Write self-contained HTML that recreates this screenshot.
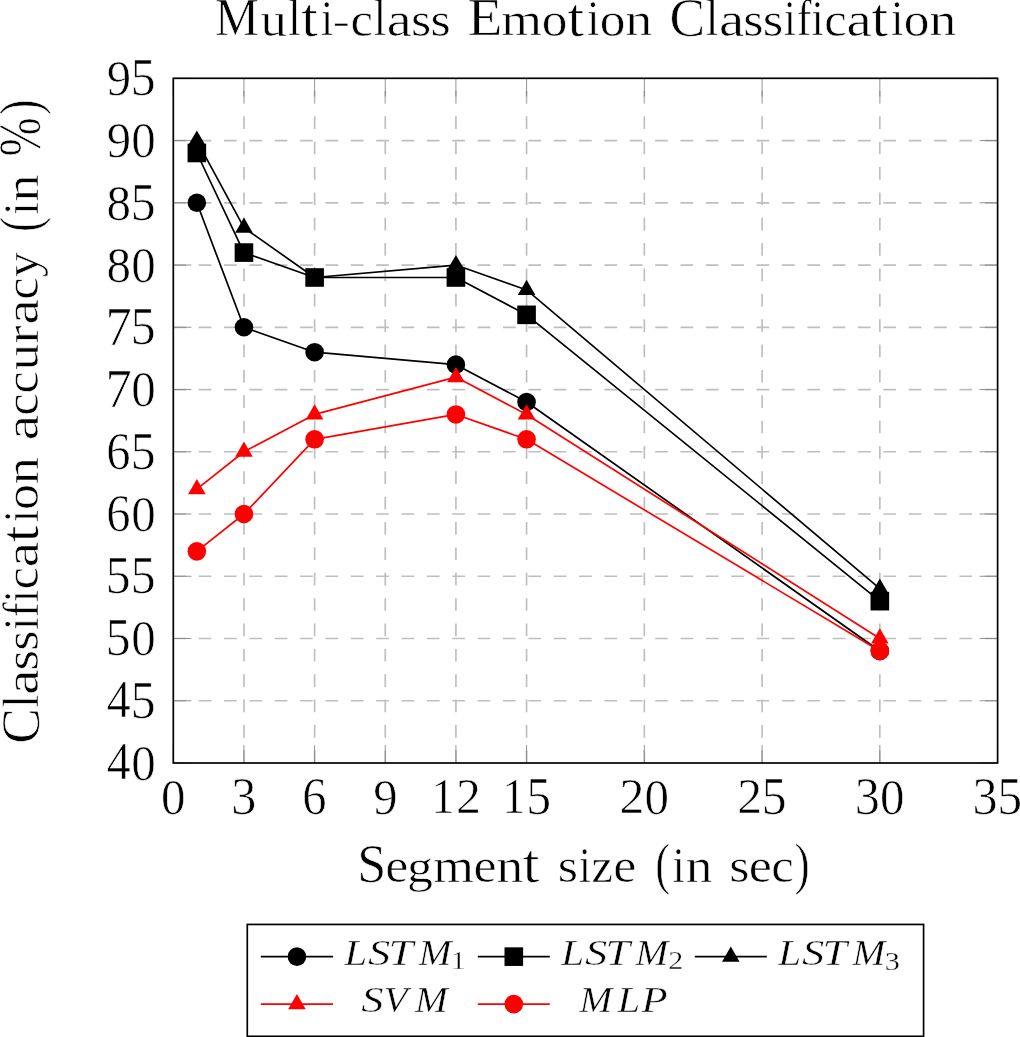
<!DOCTYPE html>
<html><head><meta charset="utf-8"><title>Multi-class Emotion Classification</title><style>
html,body{margin:0;padding:0;background:#fff;}
body{width:1020px;height:1037px;overflow:hidden;}
svg{display:block;}
text{font-family:"Liberation Serif",serif;font-size:100px;fill:#000;stroke:#fff;stroke-width:1.2px;}
</style></head><body>
<svg width="1020" height="1037" viewBox="0 0 1020 1037">
<rect width="1020" height="1037" fill="#fff"/>
<path d="M243.95 763V78.3M314.61 763V78.3M385.26 763V78.3M455.92 763V78.3M526.57 763V78.3M644.33 763V78.3M762.09 763V78.3M879.84 763V78.3M173.3 700.75H997.6M173.3 638.51H997.6M173.3 576.26H997.6M173.3 514.02H997.6M173.3 451.77H997.6M173.3 389.53H997.6M173.3 327.28H997.6M173.3 265.04H997.6M173.3 202.79H997.6M173.3 140.55H997.6" stroke="#bfbfbf" stroke-width="1.691" stroke-dasharray="12.68" fill="none"/>
<path d="M173.3 763V744.94M173.3 78.3V96.36M243.95 763V744.94M243.95 78.3V96.36M314.61 763V744.94M314.61 78.3V96.36M385.26 763V744.94M385.26 78.3V96.36M455.92 763V744.94M455.92 78.3V96.36M526.57 763V744.94M526.57 78.3V96.36M644.33 763V744.94M644.33 78.3V96.36M762.09 763V744.94M762.09 78.3V96.36M879.84 763V744.94M879.84 78.3V96.36M997.6 763V744.94M997.6 78.3V96.36M173.3 763H191.36M997.6 763H979.54M173.3 700.75H191.36M997.6 700.75H979.54M173.3 638.51H191.36M997.6 638.51H979.54M173.3 576.26H191.36M997.6 576.26H979.54M173.3 514.02H191.36M997.6 514.02H979.54M173.3 451.77H191.36M997.6 451.77H979.54M173.3 389.53H191.36M997.6 389.53H979.54M173.3 327.28H191.36M997.6 327.28H979.54M173.3 265.04H191.36M997.6 265.04H979.54M173.3 202.79H191.36M997.6 202.79H979.54M173.3 140.55H191.36M997.6 140.55H979.54M173.3 78.3H191.36M997.6 78.3H979.54" stroke="#808080" stroke-width="0.845" fill="none"/>
<rect x="173.3" y="78.3" width="824.3" height="684.7" fill="none" stroke="#000" stroke-width="1.691"/>
<path d="M196.85 202.79L243.95 327.28L314.61 352.18L455.92 364.63L526.57 401.98L879.84 650.96" fill="none" stroke="#000" stroke-width="1.691" stroke-linejoin="round"/><circle cx="196.85" cy="202.79" r="9.3" fill="#000"/><circle cx="243.95" cy="327.28" r="9.3" fill="#000"/><circle cx="314.61" cy="352.18" r="9.3" fill="#000"/><circle cx="455.92" cy="364.63" r="9.3" fill="#000"/><circle cx="526.57" cy="401.98" r="9.3" fill="#000"/><circle cx="879.84" cy="650.96" r="9.3" fill="#000"/>
<path d="M196.85 152.99L243.95 252.59L314.61 277.49L455.92 277.49L526.57 314.83L879.84 601.16" fill="none" stroke="#000" stroke-width="1.691" stroke-linejoin="round"/><rect x="187.55" y="143.69" width="18.6" height="18.6" fill="#000"/><rect x="234.65" y="243.29" width="18.6" height="18.6" fill="#000"/><rect x="305.31" y="268.19" width="18.6" height="18.6" fill="#000"/><rect x="446.62" y="268.19" width="18.6" height="18.6" fill="#000"/><rect x="517.27" y="305.53" width="18.6" height="18.6" fill="#000"/><rect x="870.54" y="591.86" width="18.6" height="18.6" fill="#000"/>
<path d="M196.85 140.55L243.95 227.69L314.61 277.49L455.92 265.04L526.57 289.93L879.84 588.71" fill="none" stroke="#000" stroke-width="1.691" stroke-linejoin="round"/><path d="M196.85 130.4L205.64 145.62H188.06Z" fill="#000"/><path d="M243.95 217.54L252.74 232.76H235.16Z" fill="#000"/><path d="M314.61 267.34L323.4 282.56H305.82Z" fill="#000"/><path d="M455.92 254.89L464.71 270.11H447.13Z" fill="#000"/><path d="M526.57 279.78L535.36 295H517.78Z" fill="#000"/><path d="M879.84 578.56L888.63 593.78H871.05Z" fill="#000"/>
<path d="M196.85 489.12L243.95 451.77L314.61 414.43L455.92 377.08L526.57 414.43L879.84 638.51" fill="none" stroke="#f00" stroke-width="1.691" stroke-linejoin="round"/><path d="M196.85 478.97L205.64 494.19H188.06Z" fill="#f00"/><path d="M243.95 441.62L252.74 456.84H235.16Z" fill="#f00"/><path d="M314.61 404.28L323.4 419.5H305.82Z" fill="#f00"/><path d="M455.92 366.93L464.71 382.15H447.13Z" fill="#f00"/><path d="M526.57 404.28L535.36 419.5H517.78Z" fill="#f00"/><path d="M879.84 628.36L888.63 643.58H871.05Z" fill="#f00"/>
<path d="M196.85 551.37L243.95 514.02L314.61 439.32L455.92 414.43L526.57 439.32L879.84 650.96" fill="none" stroke="#f00" stroke-width="1.691" stroke-linejoin="round"/><circle cx="196.85" cy="551.37" r="9.3" fill="#f00"/><circle cx="243.95" cy="514.02" r="9.3" fill="#f00"/><circle cx="314.61" cy="439.32" r="9.3" fill="#f00"/><circle cx="455.92" cy="414.43" r="9.3" fill="#f00"/><circle cx="526.57" cy="439.32" r="9.3" fill="#f00"/><circle cx="879.84" cy="650.96" r="9.3" fill="#f00"/>
<rect x="247.29" y="924.45" width="676.3" height="111.85" fill="#fff" stroke="#000" stroke-width="1.691"/>
<path d="M260.81 956.64H333.06" stroke="#000" stroke-width="1.691"/><circle cx="296.94" cy="956.64" r="9.3" fill="#000"/>
<path d="M477.81 956.64H549.81" stroke="#000" stroke-width="1.691"/><rect x="504.51" y="947.34" width="18.6" height="18.6" fill="#000"/>
<path d="M694.81 956.64H766.81" stroke="#000" stroke-width="1.691"/><path d="M730.81 946.49L739.6 961.71H722.02Z" fill="#000"/>
<path d="M260.81 1004.11H333.06" stroke="#f00" stroke-width="1.691"/><path d="M296.94 993.96L305.73 1009.18H288.14Z" fill="#f00"/>
<path d="M477.81 1004.11H549.81" stroke="#f00" stroke-width="1.691"/><circle cx="513.81" cy="1004.11" r="9.3" fill="#f00"/>
<g opacity=".999">
<text transform="matrix(0.49335 0 0 0.53071 214.89 35.4)">M</text><text transform="matrix(0.5269 0 0 0.49067 260.62 35.67)">u</text><text transform="matrix(0.46259 0 0 0.50804 287.88 35.4)">l</text><text transform="matrix(0.60067 0 0 0.5587 301.22 35.6)">t</text><text transform="matrix(0.45207 0 0 0.50973 320.86 35.4)">i</text><text transform="matrix(0.51008 0 0 0.3681 332.67 33.2)">-</text><text transform="matrix(0.50667 0 0 0.48341 350.38 35.68)">c</text><text transform="matrix(0.46259 0 0 0.50804 373.38 35.4)">l</text><text transform="matrix(0.56326 0 0 0.48538 386.83 35.68)">a</text><text transform="matrix(0.52081 0 0 0.48341 410.92 35.68)">s</text><text transform="matrix(0.52081 0 0 0.48341 430.42 35.68)">s</text> <text transform="matrix(0.57306 0 0 0.52689 467.41 35.4)">E</text><text transform="matrix(0.51942 0 0 0.47221 501.47 35.4)">m</text><text transform="matrix(0.51318 0 0 0.48341 541.86 35.68)">o</text><text transform="matrix(0.60067 0 0 0.5587 567.47 35.6)">t</text><text transform="matrix(0.45207 0 0 0.50973 587.11 35.4)">i</text><text transform="matrix(0.51318 0 0 0.48341 599.86 35.68)">o</text><text transform="matrix(0.54123 0 0 0.47221 625.32 35.4)">n</text> <text transform="matrix(0.53434 0 0 0.5507 669.62 36.11)">C</text><text transform="matrix(0.4731 0 0 0.50804 705.61 35.4)">l</text><text transform="matrix(0.56959 0 0 0.48538 719.06 35.68)">a</text><text transform="matrix(0.52081 0 0 0.48341 743.17 35.68)">s</text><text transform="matrix(0.52883 0 0 0.48341 762.64 35.68)">s</text><text transform="matrix(0.44156 0 0 0.50973 783.63 35.4)">i</text><text transform="matrix(0.44115 0 0 0.50774 796.7 35.4)">f</text><text transform="matrix(0.44115 0 0 0.50774 811.39 35.4)">i</text><text transform="matrix(0.50667 0 0 0.48341 824.13 35.68)">c</text><text transform="matrix(0.56959 0 0 0.48538 846.56 35.68)">a</text><text transform="matrix(0.60067 0 0 0.5587 871.47 35.6)">t</text><text transform="matrix(0.45207 0 0 0.50973 891.11 35.4)">i</text><text transform="matrix(0.51318 0 0 0.48341 903.86 35.68)">o</text><text transform="matrix(0.53581 0 0 0.47221 929.58 35.4)">n</text>
<text transform="matrix(0 -0.53434 0.54698 0 38.53 743.84)">C</text><text transform="matrix(0 -0.46259 0.50804 0 38.06 707.83)">l</text><text transform="matrix(0 -0.56959 0.48538 0 38.09 694.65)">a</text><text transform="matrix(0 -0.52883 0.48341 0 38.09 670.57)">s</text><text transform="matrix(0 -0.52081 0.48341 0 38.09 650.79)">s</text><text transform="matrix(0 -0.45207 0.50973 0 38.06 630.1)">i</text><text transform="matrix(0 -0.44115 0.50774 0 38.06 617.01)">f</text><text transform="matrix(0 -0.44115 0.50774 0 38.06 602.32)">i</text><text transform="matrix(0 -0.50667 0.48341 0 38.09 589.58)">c</text><text transform="matrix(0 -0.56959 0.48538 0 38.09 567.15)">a</text><text transform="matrix(0 -0.60067 0.55434 0 38.02 542.24)">t</text><text transform="matrix(0 -0.44156 0.50973 0 38.06 522.33)">i</text><text transform="matrix(0 -0.51908 0.48341 0 38.09 509.88)">o</text><text transform="matrix(0 -0.54123 0.47751 0 38.06 484.14)">n</text> <text transform="matrix(0 -0.56959 0.48538 0 38.09 440.15)">a</text><text transform="matrix(0 -0.50667 0.48341 0 38.09 415.83)">c</text><text transform="matrix(0 -0.5 0.48341 0 38.09 393.55)">c</text><text transform="matrix(0 -0.5269 0.49067 0 38.08 370.34)">u</text><text transform="matrix(0 -0.54241 0.47751 0 38.06 343.49)">r</text><text transform="matrix(0 -0.56959 0.48538 0 38.09 324.4)">a</text><text transform="matrix(0 -0.50667 0.48341 0 38.09 299.83)">c</text><text transform="matrix(0 -0.50632 0.47792 0 38 277.27)">y</text> <text transform="matrix(0 -0.45749 0.56246 0 38.84 231.91)">(</text><text transform="matrix(0 -0.45207 0.50973 0 38.06 214.85)">i</text><text transform="matrix(0 -0.54123 0.47751 0 38.06 201.39)">n</text> <text transform="matrix(0 -0.4708 0.60452 0 40.01 156.51)">%</text><text transform="matrix(0 -0.45749 0.56246 0 38.84 114.87)">)</text>
<text transform="matrix(0.48622 0 0 0.51721 106.74 95.14)">9</text><text transform="matrix(0.49648 0 0 0.52291 130.68 95.14)">5</text>
<text transform="matrix(0.48622 0 0 0.51721 106.74 157.39)">9</text><text transform="matrix(0.48959 0 0 0.51496 131.2 157.4)">0</text>
<text transform="matrix(0.48959 0 0 0.51496 106.45 219.65)">8</text><text transform="matrix(0.49648 0 0 0.52291 130.68 219.64)">5</text>
<text transform="matrix(0.48959 0 0 0.51496 106.45 281.9)">8</text><text transform="matrix(0.48959 0 0 0.51496 131.2 281.9)">0</text>
<text transform="matrix(0.52434 0 0 0.54216 105.6 344.65)">7</text><text transform="matrix(0.49648 0 0 0.52291 130.68 344.14)">5</text>
<text transform="matrix(0.52434 0 0 0.54216 105.6 406.9)">7</text><text transform="matrix(0.48959 0 0 0.51496 131.2 406.4)">0</text>
<text transform="matrix(0.48567 0 0 0.51721 106.22 468.64)">6</text><text transform="matrix(0.49648 0 0 0.52291 130.68 468.64)">5</text>
<text transform="matrix(0.48567 0 0 0.51721 106.22 530.89)">6</text><text transform="matrix(0.48959 0 0 0.51496 131.2 530.9)">0</text>
<text transform="matrix(0.49648 0 0 0.52291 105.68 593.14)">5</text><text transform="matrix(0.49648 0 0 0.52291 130.68 593.14)">5</text>
<text transform="matrix(0.49648 0 0 0.52291 105.68 655.39)">5</text><text transform="matrix(0.48959 0 0 0.51496 131.2 655.4)">0</text>
<text transform="matrix(0.47866 0 0 0.52036 106.63 717.15)">4</text><text transform="matrix(0.49648 0 0 0.52291 130.68 717.64)">5</text>
<text transform="matrix(0.47866 0 0 0.52036 106.63 779.4)">4</text><text transform="matrix(0.48959 0 0 0.51496 131.2 779.9)">0</text>
<text transform="matrix(0.48959 0 0 0.51496 160.95 813.65)">0</text>
<text transform="matrix(0.50232 0 0 0.51721 231.16 813.64)">3</text>
<text transform="matrix(0.48567 0 0 0.51721 302.22 813.64)">6</text>
<text transform="matrix(0.48622 0 0 0.51721 373.24 813.64)">9</text>
<text transform="matrix(0.46158 0 0 0.51124 431.5 813.15)">1</text><text transform="matrix(0.4989 0 0 0.50973 456.12 813.15)">2</text>
<text transform="matrix(0.46158 0 0 0.51124 502.25 813.15)">1</text><text transform="matrix(0.49648 0 0 0.52291 526.18 813.64)">5</text>
<text transform="matrix(0.4989 0 0 0.50973 619.62 813.15)">2</text><text transform="matrix(0.48959 0 0 0.51496 644.45 813.65)">0</text>
<text transform="matrix(0.4989 0 0 0.50973 737.37 813.15)">2</text><text transform="matrix(0.49648 0 0 0.52291 761.68 813.64)">5</text>
<text transform="matrix(0.50232 0 0 0.51721 854.66 813.64)">3</text><text transform="matrix(0.48959 0 0 0.51496 879.95 813.65)">0</text>
<text transform="matrix(0.50232 0 0 0.51721 972.41 813.64)">3</text><text transform="matrix(0.49648 0 0 0.52291 997.18 813.64)">5</text>
<text transform="matrix(0.52078 0 0 0.54698 357.33 882.37)">S</text><text transform="matrix(0.52011 0 0 0.48341 385.28 881.93)">e</text><text transform="matrix(0.51942 0 0 0.45953 407.08 882.48)">g</text><text transform="matrix(0.52279 0 0 0.47751 433.21 881.9)">m</text><text transform="matrix(0.52011 0 0 0.48341 473.53 881.93)">e</text><text transform="matrix(0.53581 0 0 0.47751 496.58 881.9)">n</text><text transform="matrix(0.60067 0 0 0.55434 522.72 881.86)">t</text> <text transform="matrix(0.52081 0 0 0.48341 557.67 881.93)">s</text><text transform="matrix(0.44156 0 0 0.50973 578.63 881.9)">i</text><text transform="matrix(0.48181 0 0 0.47932 591.52 881.9)">z</text><text transform="matrix(0.52011 0 0 0.48341 613.28 881.93)">e</text> <text transform="matrix(0.44776 0 0 0.56246 655.34 882.68)">(</text><text transform="matrix(0.44156 0 0 0.50973 672.38 881.9)">i</text><text transform="matrix(0.53581 0 0 0.47751 685.83 881.9)">n</text> <text transform="matrix(0.52081 0 0 0.48341 729.17 881.93)">s</text><text transform="matrix(0.52011 0 0 0.48341 748.78 881.93)">e</text><text transform="matrix(0.50667 0 0 0.48341 771.13 881.93)">c</text><text transform="matrix(0.45749 0 0 0.56246 794.59 882.68)">)</text>
<text transform="matrix(0.40826 0 0 0.35508 344.54 964.5)" font-style="italic">L</text><text transform="matrix(0.44476 0 0 0.36465 368.04 964.89)" font-style="italic">S</text><text transform="matrix(0.44561 0 0 0.35126 388.39 964.5)" font-style="italic">T</text><text transform="matrix(0.39298 0 0 0.35508 418.77 964.5)" font-style="italic">M</text><text transform="matrix(0.28405 0 0 0.25751 451.31 969.25)">1</text>
<text transform="matrix(0.41306 0 0 0.35508 561.29 964.5)" font-style="italic">L</text><text transform="matrix(0.44476 0 0 0.36465 585.04 964.89)" font-style="italic">S</text><text transform="matrix(0.44107 0 0 0.35126 605.42 964.5)" font-style="italic">T</text><text transform="matrix(0.39298 0 0 0.35508 635.52 964.5)" font-style="italic">M</text><text transform="matrix(0.29934 0 0 0.25676 668.24 969.25)">2</text>
<text transform="matrix(0.41306 0 0 0.35508 778.29 964.5)" font-style="italic">L</text><text transform="matrix(0.44476 0 0 0.36465 802.04 964.89)" font-style="italic">S</text><text transform="matrix(0.44107 0 0 0.35126 822.42 964.5)" font-style="italic">T</text><text transform="matrix(0.39298 0 0 0.35508 852.52 964.5)" font-style="italic">M</text><text transform="matrix(0.3026 0 0 0.26047 884.86 969.5)">3</text>
<text transform="matrix(0.44476 0 0 0.36837 361.29 1012.39)" font-style="italic">S</text><text transform="matrix(0.38944 0 0 0.35825 383.78 1012.21)" font-style="italic">V</text><text transform="matrix(0.39298 0 0 0.35508 415.02 1012)" font-style="italic">M</text>
<text transform="matrix(0.39298 0 0 0.35508 579.52 1012)" font-style="italic">M</text><text transform="matrix(0.40826 0 0 0.35508 617.54 1012)" font-style="italic">L</text><text transform="matrix(0.42737 0 0 0.35508 641.54 1012)" font-style="italic">P</text>
</g>
</svg></body></html>
